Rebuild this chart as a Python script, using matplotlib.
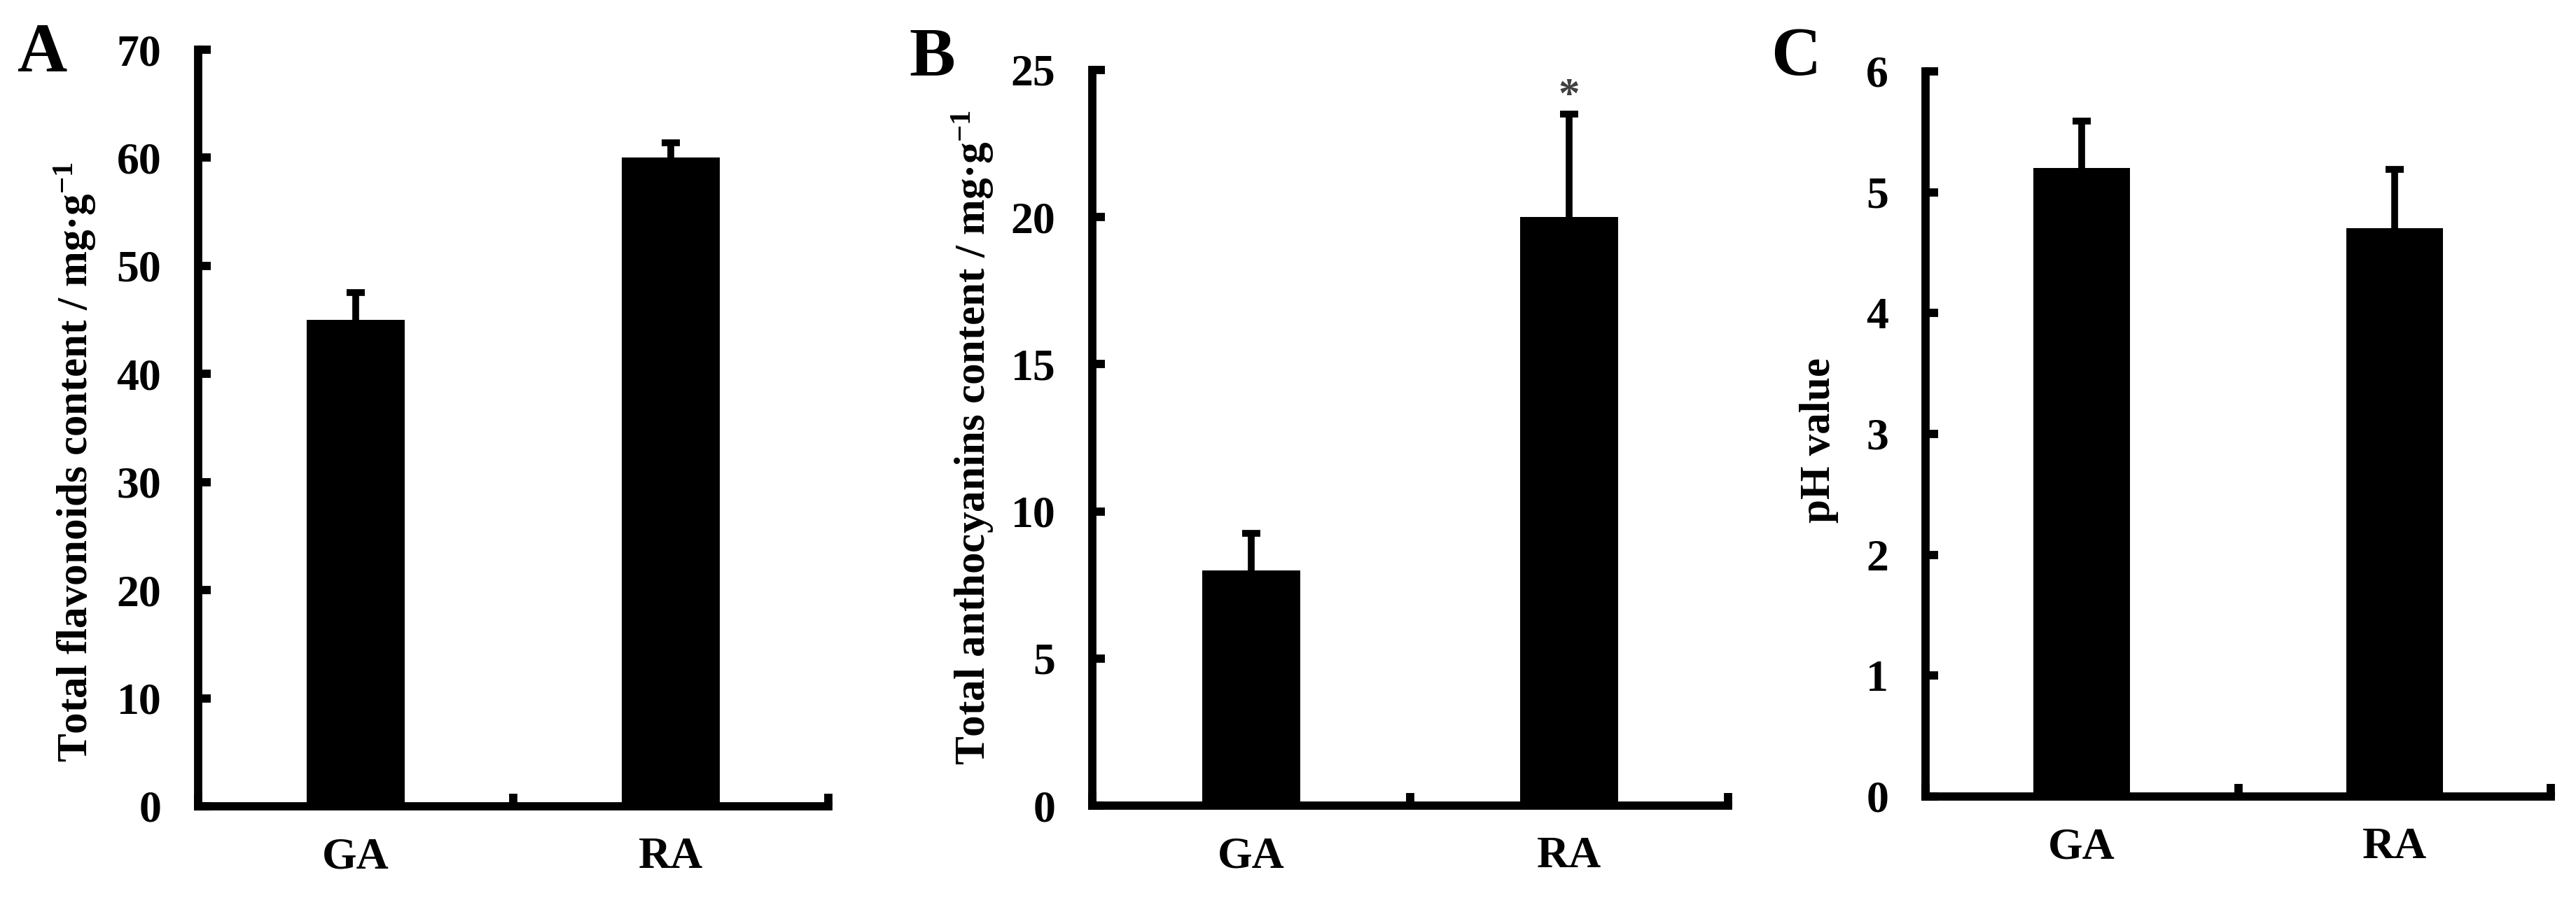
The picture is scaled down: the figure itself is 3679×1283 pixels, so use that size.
import numpy as np
import matplotlib.pyplot as plt

# data
groups = ['GA', 'RA']
flavonoids = [45.0, 60.0]
flavonoids_err = [2.5, 1.4]
anthocyanins = [8.0, 20.0]
anthocyanins_err = [1.25, 3.5]
ph_vals = [5.2, 4.7]
ph_err = [0.39, 0.49]

plt.rcParams['font.family'] = ['Liberation Serif', 'DejaVu Serif']
plt.rcParams['font.weight'] = 'bold'
plt.rcParams['mathtext.fontset'] = 'custom'
plt.rcParams['mathtext.rm'] = 'Liberation Serif:bold'
plt.rcParams['mathtext.default'] = 'rm'

W, H = 3679, 1283
fig = plt.figure(figsize=(W / 100, H / 100), dpi=100)


def make_axes(left, right, bottom, top):
    # pixel box -> figure fraction
    return fig.add_axes([left / W, 1 - bottom / H, (right - left) / W, (bottom - top) / H])


def panel(ax, vals, errs, ymax, ystep, ylabel, label_xy):
    x = np.arange(len(groups))
    ax.bar(x, vals, width=0.31, color='black', zorder=2)
    eb = ax.errorbar(x, vals, yerr=[np.zeros(len(vals)), errs], fmt='none',
                     ecolor='black', elinewidth=7, capsize=9.5, capthick=7, zorder=3)
    # only the upper cap is shown
    for cap in eb[1]:
        if np.allclose(cap.get_ydata(), vals):
            cap.set_visible(False)
    ax.set_xlim(-0.5, 1.5)
    ax.set_ylim(0, ymax)
    ax.set_yticks(np.arange(0, ymax + ystep / 2, ystep))
    ax.set_xticks([-0.5, 0.5, 1.5])
    ax.set_xticklabels([])
    ax.set_xticks(x, minor=True)
    ax.set_xticklabels(groups, minor=True)
    for s in ['top', 'right']:
        ax.spines[s].set_visible(False)
    for s in ['left', 'bottom']:
        ax.spines[s].set_linewidth(8.5)
        ax.spines[s].set_capstyle('projecting')
    ax.tick_params(axis='y', direction='in', length=13, width=8.5, labelsize=46, pad=38)
    ax.tick_params(axis='x', which='major', direction='in', length=13, width=8.5)
    ax.tick_params(axis='x', which='minor', length=0, labelsize=46, pad=32)
    ax.set_ylabel(ylabel, fontsize=44, fontweight='bold')
    ax.yaxis.set_label_coords(*label_xy)


axA = make_axes(283, 1183, 1152, 71)
panel(axA, flavonoids, flavonoids_err, 70, 10,
      'Total flavonoids content / mg·g$^{-1}$', (-0.159, 0.455))

axB = make_axes(1560, 2468, 1151, 100)
panel(axB, anthocyanins, anthocyanins_err, 25, 5,
      'Total anthocyanins content / mg·g$^{-1}$', (-0.152, 0.5))
axB.text(1, 24.1, '*', ha='center', va='center', fontsize=44, color='#404040')

axC = make_axes(2750, 3643, 1138, 102)
panel(axC, ph_vals, ph_err, 6, 1, 'pH value', (-0.139, 0.491))

# panel letters
fig.text(61 / W, 1 - 102 / H, 'A', ha='center', va='baseline', fontsize=71, fontweight='bold')
fig.text(1331 / W, 1 - 107 / H, 'B', ha='center', va='baseline', fontsize=71, fontweight='bold')
fig.text(2565 / W, 1 - 107 / H, 'C', ha='center', va='baseline', fontsize=71, fontweight='bold')

fig.savefig('out.png', dpi=100)
